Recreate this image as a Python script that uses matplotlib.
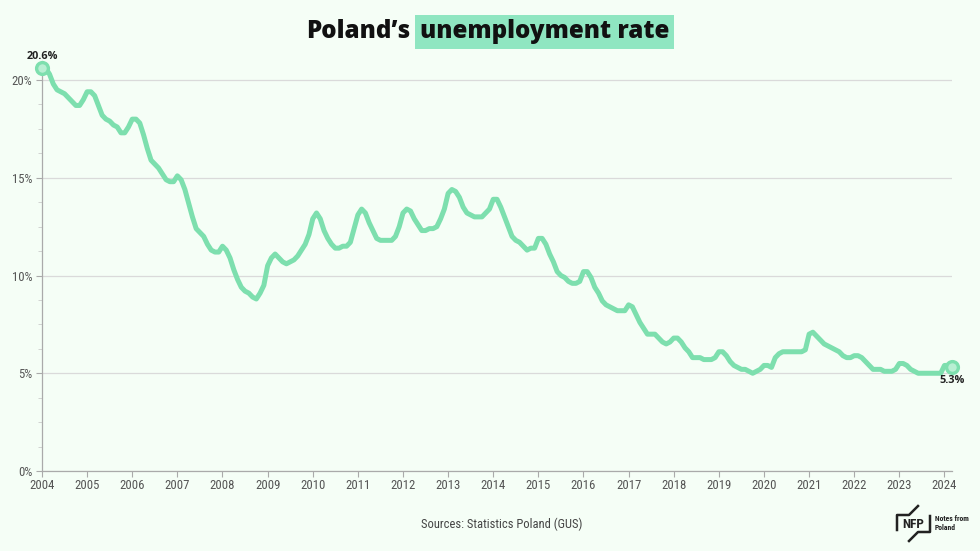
import matplotlib
matplotlib.use("Agg")
import matplotlib.pyplot as plt
from matplotlib.ticker import MultipleLocator
import numpy as np

# ---- data (monthly registered unemployment rate, %) ----
years = [str(y) for y in range(2004, 2025)]
rate_2004 = [20.6, 20.6, 20.3, 19.8, 19.5, 19.4, 19.3, 19.1, 18.9, 18.7, 18.7, 19.0]
rate_2005 = [19.4, 19.4, 19.2, 18.7, 18.2, 18.0, 17.9, 17.7, 17.6, 17.3, 17.3, 17.6]
rate_2006 = [18.0, 18.0, 17.8, 17.2, 16.5, 15.9, 15.7, 15.5, 15.2, 14.9, 14.8, 14.8]
rate_2007 = [15.1, 14.9, 14.4, 13.7, 13.0, 12.4, 12.2, 12.0, 11.6, 11.3, 11.2, 11.2]
rate_2008 = [11.5, 11.3, 10.9, 10.3, 9.8, 9.4, 9.2, 9.1, 8.9, 8.8, 9.1, 9.5]
rate_2009 = [10.5, 10.9, 11.1, 10.9, 10.7, 10.6, 10.7, 10.8, 11.0, 11.3, 11.6, 12.1]
rate_2010 = [12.9, 13.2, 12.9, 12.3, 11.9, 11.6, 11.4, 11.4, 11.5, 11.5, 11.7, 12.4]
rate_2011 = [13.1, 13.4, 13.2, 12.7, 12.3, 11.9, 11.8, 11.8, 11.8, 11.8, 12.0, 12.5]
rate_2012 = [13.2, 13.4, 13.3, 12.9, 12.6, 12.3, 12.3, 12.4, 12.4, 12.5, 12.9, 13.4]
rate_2013 = [14.2, 14.4, 14.3, 14.0, 13.5, 13.2, 13.1, 13.0, 13.0, 13.0, 13.2, 13.4]
rate_2014 = [13.9, 13.9, 13.5, 13.0, 12.5, 12.0, 11.8, 11.7, 11.5, 11.3, 11.4, 11.4]
rate_2015 = [11.9, 11.9, 11.6, 11.1, 10.7, 10.2, 10.0, 9.9, 9.7, 9.6, 9.6, 9.7]
rate_2016 = [10.2, 10.2, 9.9, 9.4, 9.1, 8.7, 8.5, 8.4, 8.3, 8.2, 8.2, 8.2]
rate_2017 = [8.5, 8.4, 8.0, 7.6, 7.3, 7.0, 7.0, 7.0, 6.8, 6.6, 6.5, 6.6]
rate_2018 = [6.8, 6.8, 6.6, 6.3, 6.1, 5.8, 5.8, 5.8, 5.7, 5.7, 5.7, 5.8]
rate_2019 = [6.1, 6.1, 5.9, 5.6, 5.4, 5.3, 5.2, 5.2, 5.1, 5.0, 5.1, 5.2]
rate_2020 = [5.4, 5.4, 5.3, 5.8, 6.0, 6.1, 6.1, 6.1, 6.1, 6.1, 6.1, 6.2]
rate_2021 = [7.0, 7.1, 6.9, 6.7, 6.5, 6.4, 6.3, 6.2, 6.1, 5.9, 5.8, 5.8]
rate_2022 = [5.9, 5.9, 5.8, 5.6, 5.4, 5.2, 5.2, 5.2, 5.1, 5.1, 5.1, 5.2]
rate_2023 = [5.5, 5.5, 5.4, 5.2, 5.1, 5.0, 5.0, 5.0, 5.0, 5.0, 5.0, 5.0]
rate_2024 = [5.4, 5.4, 5.3]

rates = (rate_2004 + rate_2005 + rate_2006 + rate_2007 + rate_2008 + rate_2009 +
         rate_2010 + rate_2011 + rate_2012 + rate_2013 + rate_2014 + rate_2015 +
         rate_2016 + rate_2017 + rate_2018 + rate_2019 + rate_2020 + rate_2021 +
         rate_2022 + rate_2023 + rate_2024)
months = np.arange(len(rates))

y_ticks = [0, 5, 10, 15, 20]
y_labels = ["0%", "5%", "10%", "15%", "20%"]

title_left = "Poland\u2019s"
title_right = "unemployment rate"
source = "Sources: Statistics Poland (GUS)"

# ---- style ----
BG = "#F5FEF6"
LINE = "#7DDFAE"
HILITE = "#8FE6C1"
W, H = 980, 551

narrow = ["Roboto Condensed", "Open Sans Condensed", "Liberation Sans Narrow",
          "DejaVu Sans Condensed", "Roboto"]

fig = plt.figure(figsize=(W / 100, H / 100), dpi=100, facecolor=BG)
ax = fig.add_axes([42 / W, 1 - 471 / H, (952 - 42) / W, (471 - 60.5) / H])
ax.set_facecolor(BG)

ax.plot(months, rates, color=LINE, lw=3.6, solid_joinstyle="round",
        solid_capstyle="round", zorder=3)
# end markers
for i in (0, len(rates) - 1):
    ax.plot(months[i], rates[i], "o", ms=8.5, mfc="#B8EFD3", mec=LINE,
            mew=2.4, zorder=4, clip_on=False)

ax.text(months[0], rates[0] + 0.3, f"{rates[0]:.1f}%", ha="center",
        va="bottom", fontsize=7.8, fontweight="bold", color="#222222",
        family="Open Sans")
ax.text(months[-1], rates[-1] - 0.4, f"{rates[-1]:.1f}%", ha="center",
        va="top", fontsize=7.8, fontweight="bold", color="#222222",
        family="Open Sans")

ax.set_xlim(0, len(rates) - 1)
ax.set_ylim(0, 21)

ax.set_yticks(y_ticks)
ax.set_yticklabels(y_labels)
ax.yaxis.set_minor_locator(MultipleLocator(1.25))
ax.set_xticks(np.arange(0, len(rates), 12))
ax.set_xticklabels(years)

ax.grid(axis="y", color="#DADADA", lw=0.9, zorder=0)
for s in ("top", "right"):
    ax.spines[s].set_visible(False)
ax.spines["left"].set_color("#AAAAAA")
ax.spines["left"].set_linewidth(0.9)
ax.spines["bottom"].set_color("#AAAAAA")
ax.spines["bottom"].set_linewidth(0.9)

ax.tick_params(axis="y", which="major", length=4, width=0.8, color="#AAAAAA",
               labelsize=9.2, labelcolor="#555555", pad=3)
ax.tick_params(axis="y", which="minor", length=3, width=0.6, color="#CCCCCC")
ax.tick_params(axis="x", length=4, width=0.8, color="#AAAAAA",
               labelsize=9.2, labelcolor="#555555", pad=2)
for lbl in ax.get_xticklabels() + ax.get_yticklabels():
    lbl.set_family(narrow)

# ---- title ----
fig.text(410 / W, 1 - 32 / H, title_left, ha="right", va="center",
         fontsize=17.4, fontweight=800, color="#111111", family="Open Sans")
fig.text(420 / W, 1 - 32 / H, title_right, ha="left", va="center",
         fontsize=17.4, fontweight=800, color="#111111", family="Open Sans",
         bbox=dict(boxstyle="square,pad=0.2", fc=HILITE, ec="none"))

# ---- source ----
fig.text(502 / W, 1 - 524 / H, source, ha="center", va="center",
         fontsize=9, color="#444444", family=narrow)

# ---- logo ----
fig.lines.append(plt.Line2D([897 / W, 897 / W, 909 / W, 918 / W],
                            [1 - 530 / H, 1 - 515 / H, 1 - 515 / H, 1 - 506 / H],
                            transform=fig.transFigure, color="#222222", lw=1.8))
fig.lines.append(plt.Line2D([930 / W, 930 / W, 918 / W, 909 / W],
                            [1 - 516 / H, 1 - 532 / H, 1 - 532 / H, 1 - 541 / H],
                            transform=fig.transFigure, color="#222222", lw=1.8))
fig.text(913.5 / W, 1 - 524 / H, "NFP", ha="center", va="center", fontsize=9.5,
         fontweight="bold", color="#222222", family=narrow)
fig.text(935 / W, 1 - 523 / H, "Notes from\nPoland", ha="left", va="center",
         fontsize=5.5, fontweight="bold", color="#222222", family=narrow,
         linespacing=1.2)

fig.savefig("out.png", dpi=100, facecolor=BG)
